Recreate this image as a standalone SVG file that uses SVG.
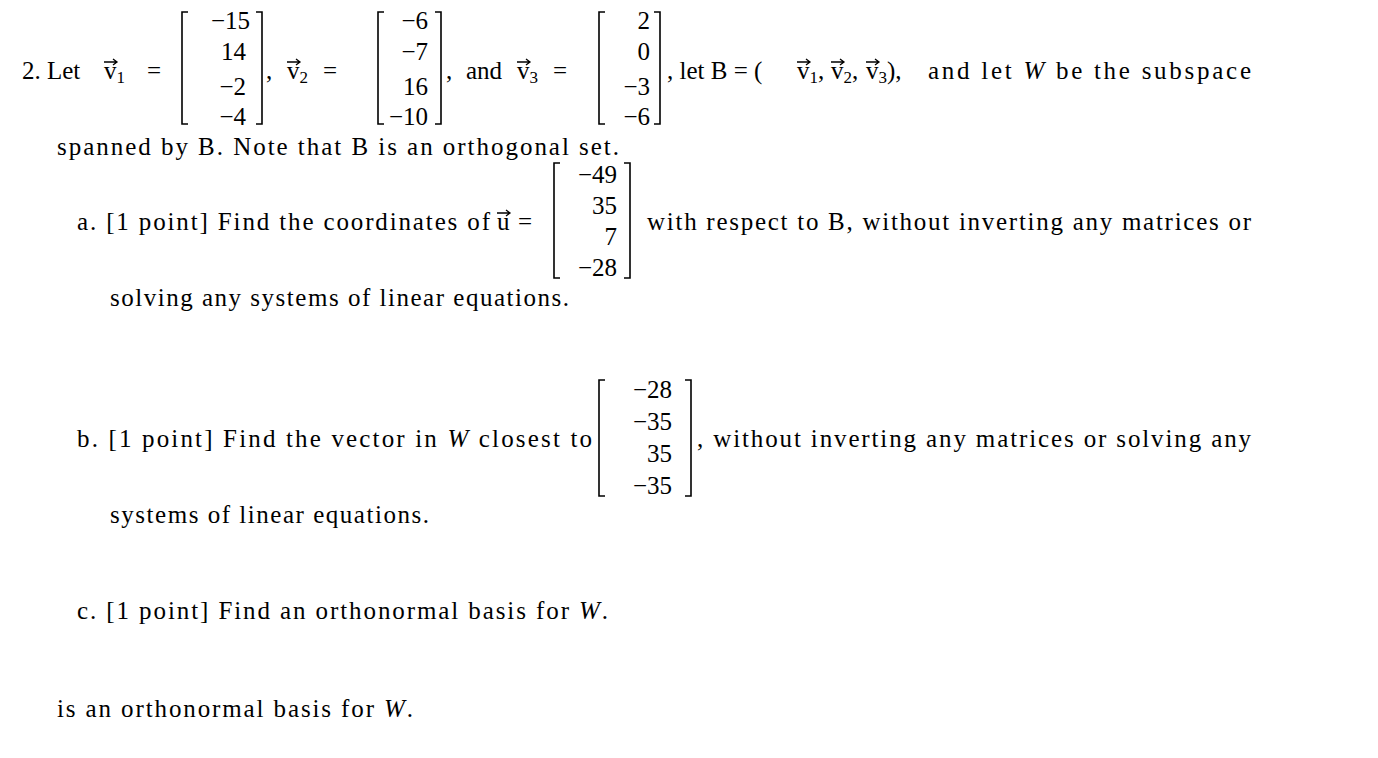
<svg xmlns="http://www.w3.org/2000/svg" width="1378" height="758" viewBox="0 0 1378 758">
<style>
text{font-family:"Liberation Serif","DejaVu Serif",serif;font-size:25px;fill:#000}
.s{font-size:17px}
.r{text-anchor:end}
.i{font-style:italic}
.br{fill:none;stroke:#000;stroke-width:1.6}
.ar{fill:none;stroke:#000;stroke-width:1.3}
</style>
<defs><path id="a" class="ar" d="M0 0H13M9 -3L13 0L9 3"/></defs>
<rect width="1378" height="758" fill="#fff"/>
<g id="vectors">
<use href="#a" x="104" y="62"/><use href="#a" x="287" y="62"/><use href="#a" x="517" y="62"/>
<use href="#a" x="797" y="62"/><use href="#a" x="831" y="62"/><use href="#a" x="866" y="62"/>
<use href="#a" x="497" y="213"/>
</g>
<text x="22" y="79">2. Let</text>
<text x="104" y="79">v<tspan class="s" dy="4">1</tspan></text><text x="147" y="79">=</text>
<path class="br" d="M188 12H182V124H188M256 12H262V124H256"/>
<text class="r" x="250" y="29">−15</text><text class="r" x="246" y="60">14</text><text class="r" x="246" y="95">−2</text><text class="r" x="246" y="125">−4</text>
<text x="266" y="79">,</text><text x="287" y="79">v<tspan class="s" dy="4">2</tspan></text><text x="323" y="79">=</text>
<path class="br" d="M384 12H378V124H384M435 12H441V124H435"/>
<text class="r" x="428" y="29">−6</text><text class="r" x="428" y="60">−7</text><text class="r" x="428" y="95">16</text><text class="r" x="428" y="125">−10</text>
<text x="446" y="79">,</text><text x="466" y="79">and</text><text x="517" y="79">v<tspan class="s" dy="4">3</tspan></text><text x="553" y="79">=</text>
<path class="br" d="M605 12H599V124H605M654 12H660V124H654"/>
<text class="r" x="650" y="29">2</text><text class="r" x="650" y="60">0</text><text class="r" x="650" y="95">−3</text><text class="r" x="650" y="125">−6</text>
<text x="667" y="79">, let B = (</text>
<text x="797" y="79">v<tspan class="s" dy="4">1</tspan><tspan dy="-4">,</tspan></text>
<text x="831" y="79">v<tspan class="s" dy="4">2</tspan><tspan dy="-4">,</tspan></text>
<text x="866" y="79">v<tspan class="s" dy="4">3</tspan><tspan dy="-4">),</tspan></text>
<text x="928" y="79" textLength="323">and let <tspan class="i">W</tspan> be the subspace</text>
<text x="57" y="155" textLength="562">spanned by B. Note that B is an orthogonal set.</text>
<text x="77" y="230" textLength="413">a. [1 point] Find the coordinates of</text>
<text x="497" y="230">u</text><text x="518" y="230">=</text>
<path class="br" d="M560 163H554V278H560M624 163H630V278H624"/>
<text class="r" x="617" y="183">−49</text><text class="r" x="617" y="214">35</text><text class="r" x="617" y="245">7</text><text class="r" x="617" y="276">−28</text>
<text x="647" y="230" textLength="604">with respect to B, without inverting any matrices or</text>
<text x="110" y="306" textLength="459">solving any systems of linear equations.</text>
<text x="77" y="447" textLength="515">b. [1 point] Find the vector in <tspan class="i">W</tspan> closest to</text>
<path class="br" d="M605 380H599V496H605M685 380H691V496H685"/>
<text class="r" x="672" y="398">−28</text><text class="r" x="672" y="430">−35</text><text class="r" x="672" y="462">35</text><text class="r" x="672" y="494">−35</text>
<text x="697" y="447" textLength="554">, without inverting any matrices or solving any</text>
<text x="110" y="523" textLength="319">systems of linear equations.</text>
<text x="77" y="619" textLength="531">c. [1 point] Find an orthonormal basis for <tspan class="i">W</tspan>.</text>
<text x="57" y="717" textLength="356">is an orthonormal basis for <tspan class="i">W</tspan>.</text>
</svg>
